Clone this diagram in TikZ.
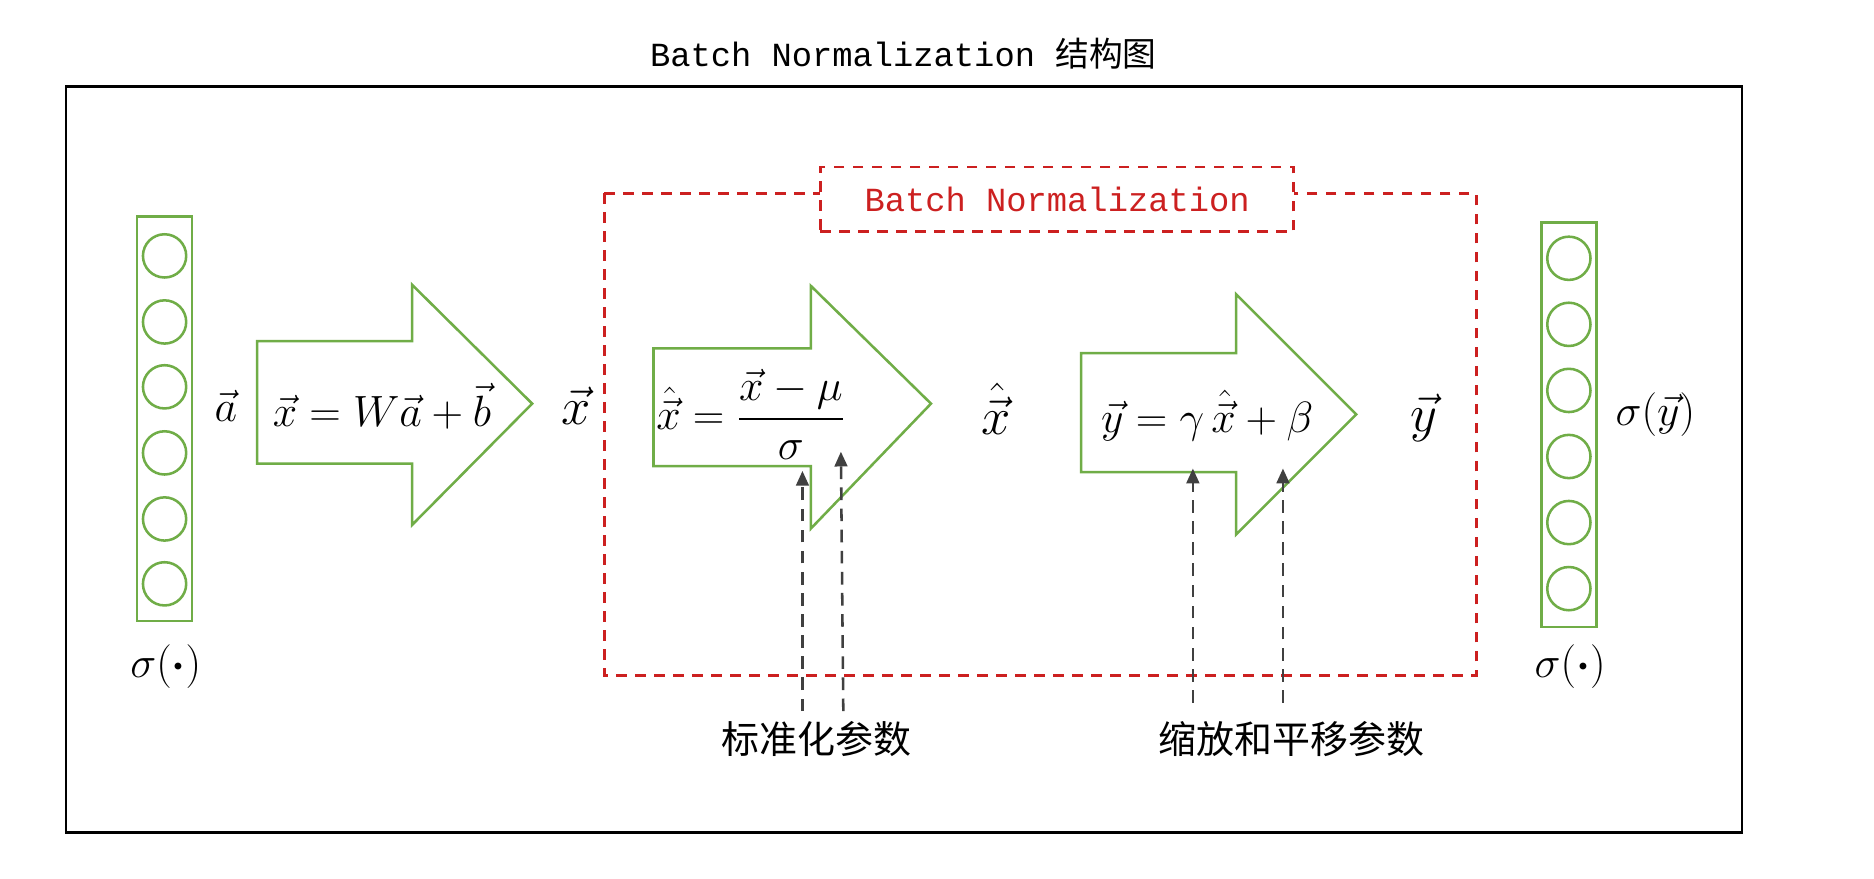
\documentclass[tikz,border=0pt]{standalone}
\usepackage{amsmath}
\usepackage{fontspec}
\setmonofont{Liberation Mono}
\newfontfamily\cjk{Noto Sans CJK SC}
\usetikzlibrary{arrows.meta}
\definecolor{gr}{RGB}{112,173,71}
\definecolor{rd}{RGB}{204,32,32}
\tikzset{
  col/.style={draw=gr,line width=1.2pt},
  bigarrow/.style={draw=gr,line width=1.2pt,fill=white},
  mth/.style={font=\fontsize{20}{24}\selectfont},
  lbl/.style={font=\cjk\fontsize{18}{20}\selectfont},
  param/.style={dash pattern=on 6pt off 4pt,line width=1.2pt,draw=black!75,-{Triangle[length=7pt,width=6pt]}},
  reddash/.style={draw=rd,dash pattern=on 5pt off 4pt,line width=1.4pt},
}
\begin{document}
\begin{tikzpicture}[x=0.02cm,y=-0.02cm]
\useasboundingbox (0,0) rectangle (1560,731);
\fill[white] (0,0) rectangle (1560,731);
\node (title) at (752,45) {\ttfamily\fontsize{16}{18}\selectfont Batch Normalization {\cjk 结构图}};
\draw[line width=1pt] (55,72) rectangle (1450,693);
% BN box
\draw[reddash] (503,161) rectangle (1229,562);
\node[reddash,fill=white,minimum width=394*0.02cm,minimum height=54*0.02cm,text=rd] (bnl) at (880,166) {\ttfamily\fontsize{16}{18}\selectfont Batch Normalization};
% columns
\draw[col] (114,180) rectangle (160,517);
\foreach \y in {213,268,322,377,432,486} \draw[col] (137,\y) circle (18);
\draw[col] (1283,185) rectangle (1329,522);
\foreach \y in {215,270,325,380,435,490} \draw[col] (1306,\y) circle (18);
\node[mth] (s1) at (138,555) {$\sigma(\boldsymbol{\cdot})$};
\node[mth] (s2) at (1307,555) {$\sigma(\boldsymbol{\cdot})$};
\node[mth] (sy) at (1378,345) {$\sigma(\vec{y})$};
% big arrows
\draw[bigarrow] (214,284)--(343,284)--(343,237)--(443,336)--(343,437)--(343,386)--(214,386)--cycle;
\draw[bigarrow] (544,290)--(675,290)--(675,238)--(775,336)--(675,440)--(675,388)--(544,388)--cycle;
\draw[bigarrow] (900,294)--(1029,294)--(1029,245)--(1129,345)--(1029,445)--(1029,393)--(900,393)--cycle;
% math
\node[mth] (a) at (188,338) {$\vec{a}$};
\node[mth] (f1) at (318,338) {$\vec{x}=W\vec{a}+\vec{b}$};
\node[mth,font=\fontsize{24}{28}\selectfont] (x) at (480,338) {$\vec{x}$};
\node[mth] (f2) at (625,345) {$\hat{\vec{x}}=\dfrac{\vec{x}-\mu}{\sigma}$};
\node[mth,font=\fontsize{24}{28}\selectfont] (xh) at (829,340) {$\hat{\vec{x}}$};
\node[mth] (f3) at (1005,346) {$\vec{y}=\gamma\,\hat{\vec{x}}+\beta$};
\node[mth,font=\fontsize{24}{28}\selectfont] (y) at (1185,348) {$\vec{y}$};
% params
\node[lbl] (p1) at (680,615) {标准化参数};
\node[lbl] (p2) at (1075,615) {缩放和平移参数};
\coordinate (c1) at (668,392); \coordinate (c2) at (700,376);
\coordinate (c3) at (993,390); \coordinate (c4) at (1068,390);
\draw[param] (668,592) -- (c1);
\draw[param] (702,592) -- (c2);
\draw[param] (993,585) -- (c3);
\draw[param] (1068,585) -- (c4);
\end{tikzpicture}
\end{document}
